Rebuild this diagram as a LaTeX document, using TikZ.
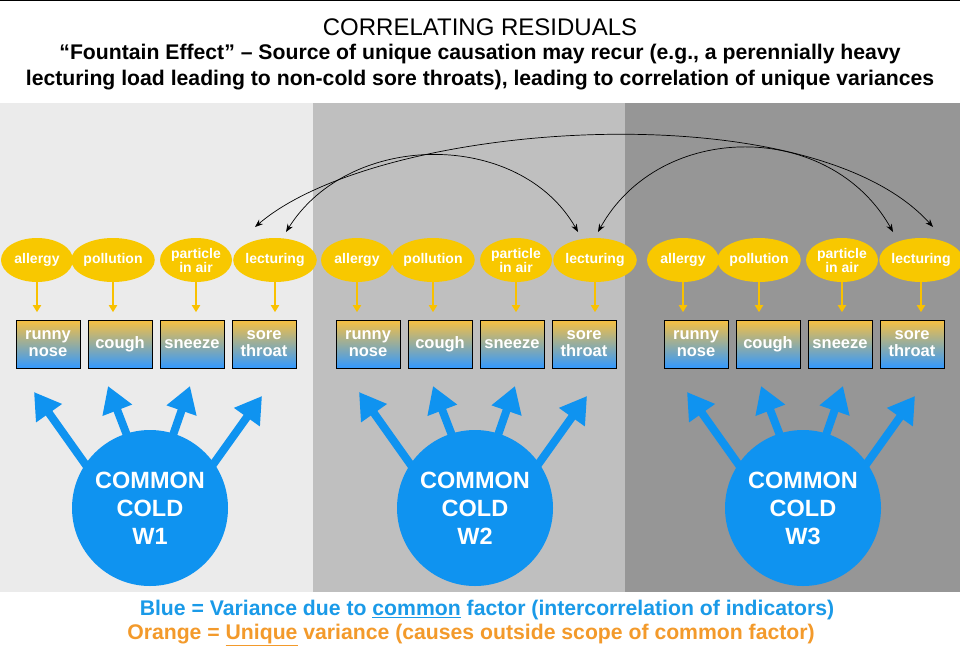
\documentclass[tikz,border=0pt]{standalone}
\usepackage{fontspec}
\setmainfont{Liberation Sans}
\usetikzlibrary{arrows.meta,shapes.geometric}
\definecolor{yel}{HTML}{F8C800}
\definecolor{blu}{HTML}{0F93F0}
\definecolor{org}{HTML}{F39A2B}
\definecolor{bbl}{HTML}{1A9AE8}
\definecolor{btop}{HTML}{F8C040}
\definecolor{bbot}{HTML}{3399FF}
\begin{document}
\begin{tikzpicture}[x=1pt,y=-1pt,
 ell/.style={ellipse,fill=yel,minimum width=72pt,minimum height=44pt,inner sep=0pt,text=white,font=\fontsize{14}{14}\bfseries,align=center},
 box/.style={draw=black,top color=btop,bottom color=bbot,minimum width=64pt,minimum height=48pt,inner sep=0pt,text=white,font=\fontsize{16.5}{17}\bfseries,align=center},
 circ/.style={circle,fill=blu,minimum size=156pt,text=white,font=\fontsize{23.5}{28}\bfseries,align=center},
 uarr/.style={-{Triangle[length=7pt,width=8pt]},draw=yel!90!orange,line width=2pt},
 barr/.style={-{Triangle[length=26pt,width=30pt]},draw=blu,line width=8pt},
 carr/.style={{Stealth[length=8pt]}-{Stealth[length=8pt]},draw=black,line width=0.7pt}]
\useasboundingbox (0,0) rectangle (960,656);
\fill[white] (0,0) rectangle (960,656);
\draw[black,line width=1pt] (0,0.5) -- (960,0.5);
\fill[black!8] (0,103) rectangle (313,592);
\fill[black!25] (313,103) rectangle (625,592);
\fill[black!41] (625,103) rectangle (960,592);
\node[font=\fontsize{24}{26}\selectfont] (t) at (480,27) {CORRELATING RESIDUALS};
\node[font=\fontsize{21.2}{26}\bfseries,align=center] (s) at (480,67) {“Fountain Effect” – Source of unique causation may recur (e.g., a perennially heavy\\lecturing load leading to non-cold sore throats), leading to correlation of unique variances};
\foreach \w/\ex/\bx/\cx in {1/0/0/150, 2/320/320/475, 3/646/648/803}{
 \node[ell] (a\w) at (\ex+37,260) {allergy};
 \node[ell] (p\w) at (\ex+113,260) {pollution};
 \node[ell] (q\w) at (\ex+196,260) {particle\\in air};
 \node[ell] (l\w) at (\ex+275,260) {lecturing};
 \node[box] (r\w) at (\bx+48,344) {runny\\nose};
 \node[box] (c\w) at (\bx+120,344) {cough};
 \node[box] (z\w) at (\bx+192,344) {sneeze};
 \node[box] (s\w) at (\bx+264,344) {sore\\throat};
 \draw[uarr] (a\w.south) -- ++(0,30);
 \draw[uarr] (p\w.south) -- ++(0,30);
 \draw[uarr] (q\w.south) -- ++(0,30);
 \draw[uarr] (l\w.south) -- ++(0,30);
 \node[circ] (k\w) at (\cx,508) {COMMON\\COLD\\W\w};
 \coordinate (e1\w) at (\cx-116,392);
 \coordinate (e2\w) at (\cx-42,386);
 \coordinate (e3\w) at (\cx+40,386);
 \coordinate (e4\w) at (\cx+112,396);
 \draw[barr] (k\w.center) ++(-62,-40) -- (e1\w);
 \draw[barr] (k\w.center) ++(-22,-70) -- (e2\w);
 \draw[barr] (k\w.center) ++(22,-70) -- (e3\w);
 \draw[barr] (k\w.center) ++(62,-42) -- (e4\w);
}
\coordinate (A1) at (255,227); \coordinate (A2) at (933,227);
\coordinate (B1) at (286,232); \coordinate (B2) at (578,232);
\coordinate (C1) at (598,232); \coordinate (C2) at (893,232);
\draw[carr] (A1) .. controls (380,120) and (810,90) .. (A2);
\draw[carr] (B1) .. controls (350,130) and (520,130) .. (B2);
\draw[carr] (C1) .. controls (660,120) and (830,120) .. (C2);
\node[font=\fontsize{21.2}{24}\bfseries,text=bbl] (lg1) at (487,610) {Blue = Variance due to \underline{common} factor (intercorrelation of indicators)};
\node[font=\fontsize{21.2}{24}\bfseries,text=org] (lg2) at (471,635) {Orange = \underline{Unique} variance (causes outside scope of common factor)};
\end{tikzpicture}
\end{document}
